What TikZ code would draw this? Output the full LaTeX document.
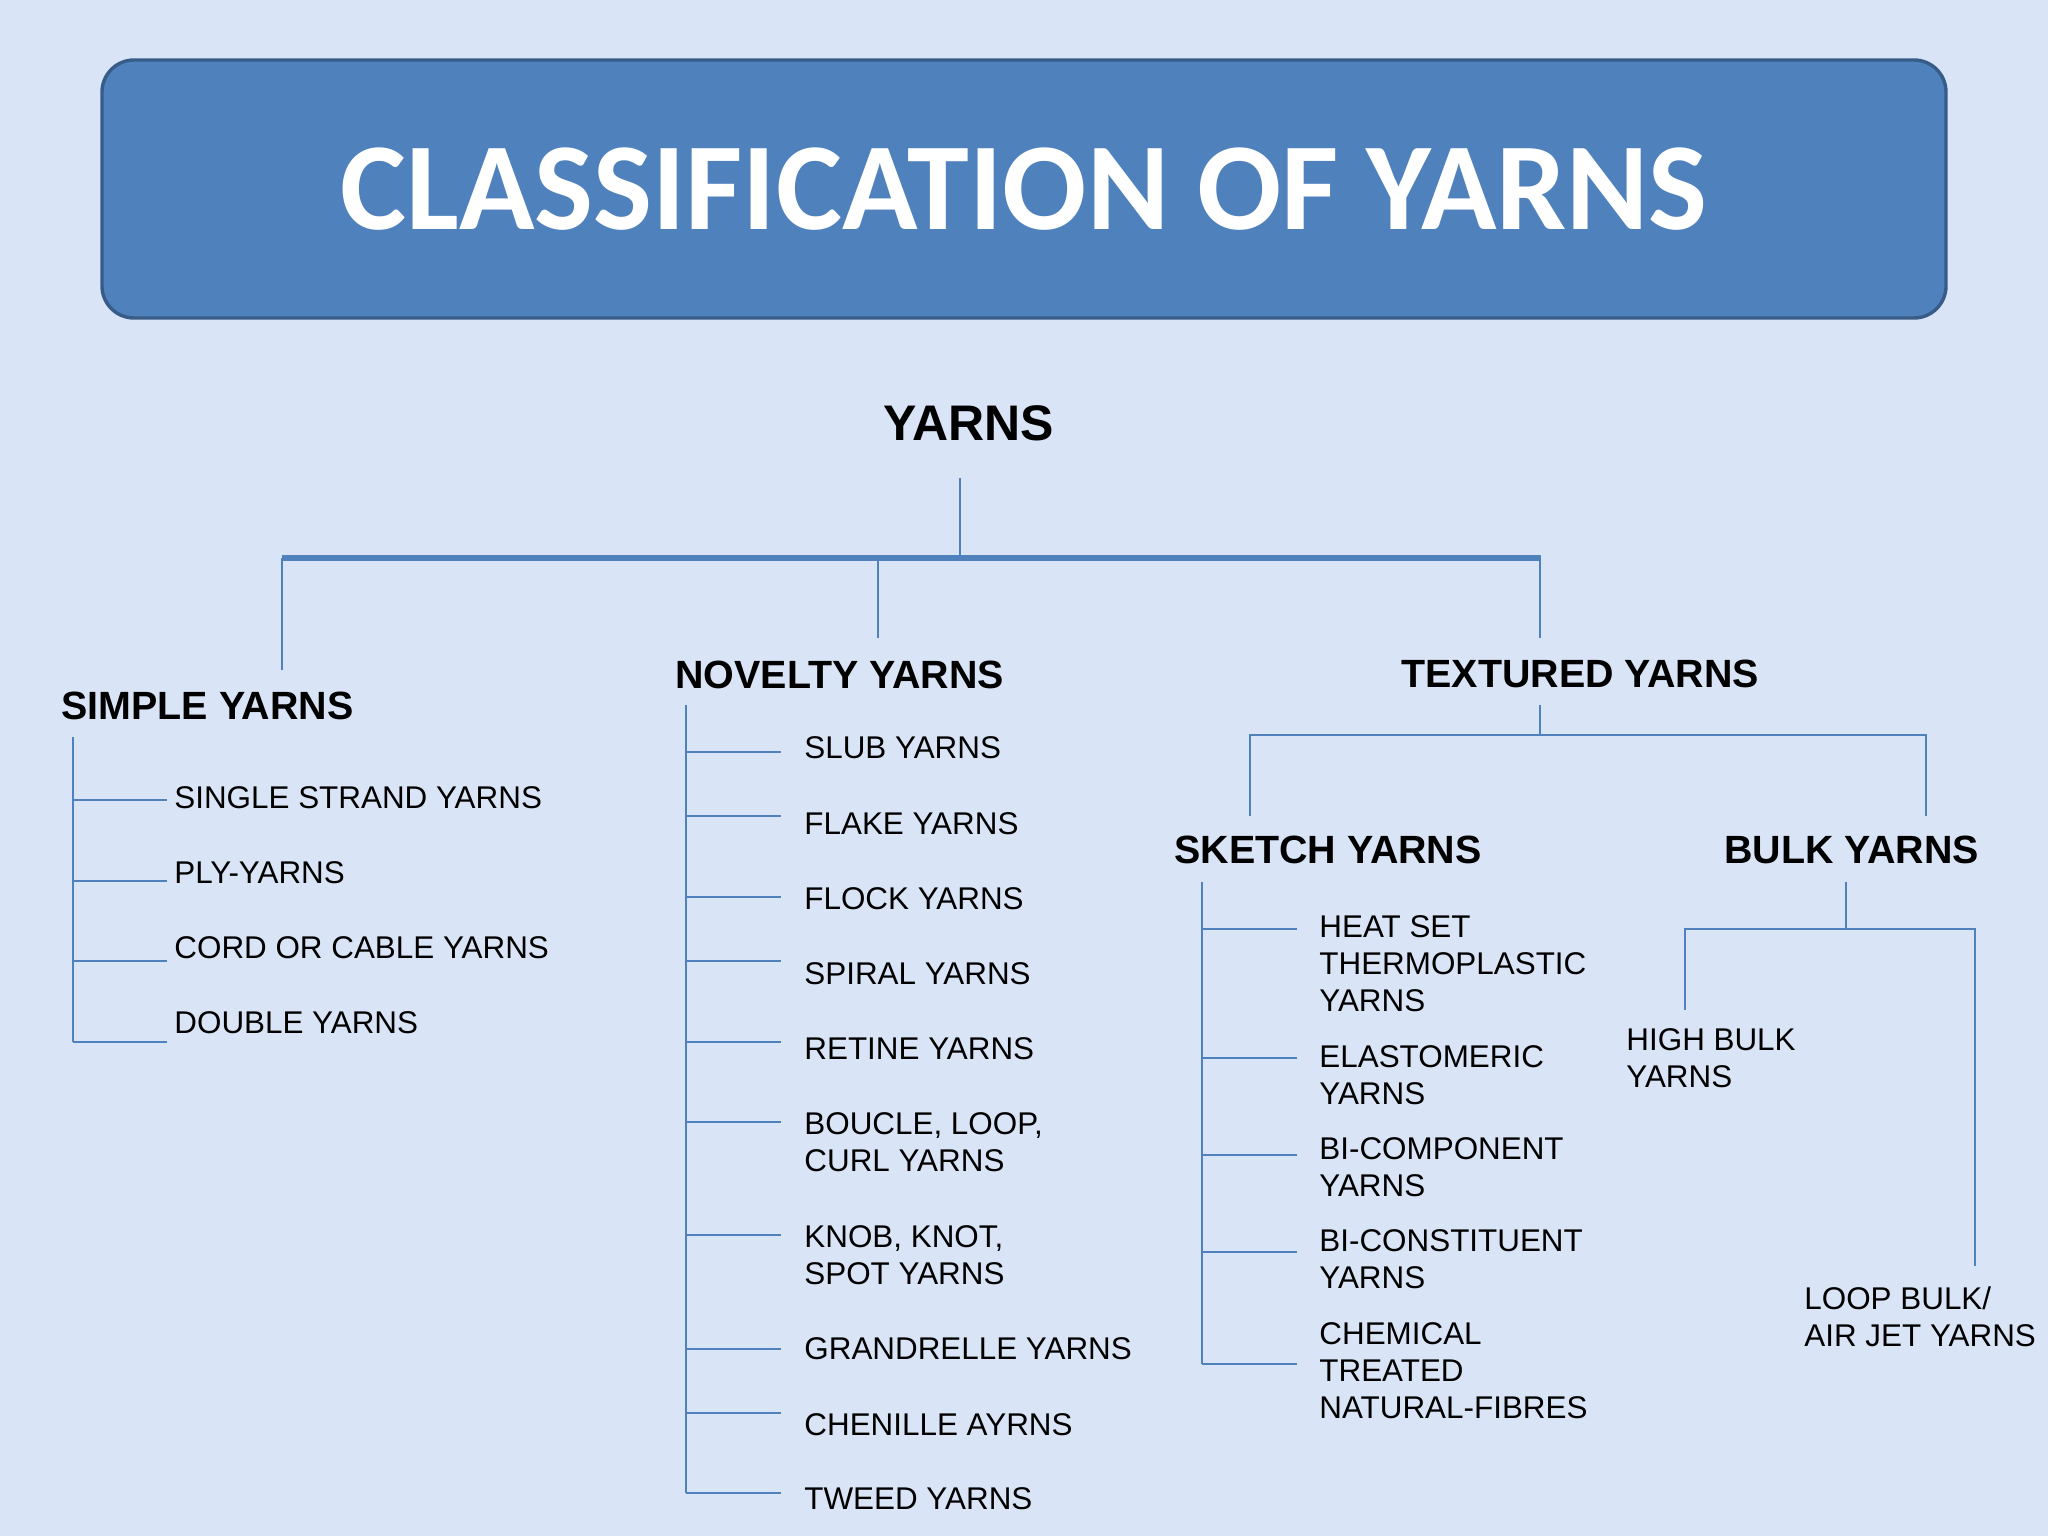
\documentclass[tikz,border=0pt]{standalone}
\usepackage{fontspec}
\setmainfont{Liberation Sans}
\newfontfamily\titlefont{Carlito}
\definecolor{bgblue}{RGB}{217,229,246}
\definecolor{lineblue}{RGB}{79,129,189}
\definecolor{boxfill}{RGB}{79,129,189}
\definecolor{boxdraw}{RGB}{56,92,136}
\begin{document}
\begin{tikzpicture}[x=0.5pt,y=-0.5pt,
  conn/.style={draw=lineblue,line width=1.25pt},
  thickbar/.style={draw=lineblue,line width=3.2pt},
  item/.style={inner sep=0pt,anchor=west,font=\fontsize{15.7}{18.5}\selectfont,align=left},
  mitem/.style={inner sep=0pt,anchor=north west,font=\fontsize{15.7}{18.5}\selectfont,align=left},
  head/.style={inner sep=0pt,anchor=west,font=\bfseries\fontsize{19.7}{23}\selectfont},
]
\useasboundingbox (0,0) rectangle (2048,1536);
\fill[bgblue] (0,0) rectangle (2048,1536);

% title
\node[draw=boxdraw,fill=boxfill,line width=1.7pt,rounded corners=16pt,
      minimum width=922pt,minimum height=129pt,inner sep=0pt,
      text=white,font=\titlefont\bfseries\fontsize{62.3}{70}\selectfont] (title) at (1024,189) {CLASSIFICATION OF YARNS};

% root
\node[inner sep=0pt,font=\bfseries\fontsize{25}{29}\selectfont] (yarns) at (969,423) {YARNS};

% headings
\node[head] (simple) at (61,706) {SIMPLE YARNS};
\node[head] (novelty) at (675,675) {NOVELTY YARNS};
\node[head] (textured) at (1401,674) {TEXTURED YARNS};
\node[head] (sketch) at (1174,850) {SKETCH YARNS};
\node[head] (bulk) at (1724,850) {BULK YARNS};

% top connectors
\coordinate (yt) at (960,478);
\coordinate (yb) at (960,558);
\coordinate (barL) at (282,558);
\coordinate (barR) at (1541,558);
\coordinate (simpleTop) at (282,670);
\coordinate (novBar) at (878,558);
\coordinate (novTop) at (878,638);
\coordinate (texBar) at (1540,558);
\coordinate (texTop) at (1540,638);
\draw[conn] (yt) -- (yb);
\draw[thickbar] (barL) -- (barR);
\draw[conn] (barL) -- (simpleTop);
\draw[conn] (novBar) -- (novTop);
\draw[conn] (texBar) -- (texTop);

% simple yarns
\coordinate (sTop) at (73,737);
\coordinate (sBot) at (73,1042);
\draw[conn] (sTop) -- (sBot);
\foreach \y [count=\i] in {800,881,961,1042}{
  \coordinate (st\i) at (73,\y);
  \draw[conn] (st\i) -- ++(94,0);
}
\node[item] (s1) at (174,798) {SINGLE STRAND YARNS};
\node[item] (s2) at (174,873) {PLY-YARNS};
\node[item] (s3) at (174,948) {CORD OR CABLE YARNS};
\node[item] (s4) at (174,1023) {DOUBLE YARNS};

% novelty yarns
\coordinate (nTop) at (686,705);
\coordinate (nBot) at (686,1493);
\draw[conn] (nTop) -- (nBot);
\foreach \y [count=\i] in {752,816,897,961,1042,1122,1235,1349,1413,1493}{
  \coordinate (nt\i) at (686,\y);
  \draw[conn] (nt\i) -- ++(95,0);
}
\node[item] (n1) at (804,748) {SLUB YARNS};
\node[item] (n2) at (804,824) {FLAKE YARNS};
\node[item] (n3) at (804,899) {FLOCK YARNS};
\node[item] (n4) at (804,974) {SPIRAL YARNS};
\node[item] (n5) at (804,1049) {RETINE YARNS};
\node[mitem] (n6) at (804,1112.5) {BOUCLE, LOOP,\\CURL YARNS};
\node[mitem] (n7) at (804,1225.5) {KNOB, KNOT,\\SPOT YARNS};
\node[item] (n8) at (804,1349) {GRANDRELLE YARNS};
\node[item] (n9) at (804,1425) {CHENILLE AYRNS};
\node[item] (n10) at (804,1499) {TWEED YARNS};

% textured split
\coordinate (tA) at (1540,705);
\coordinate (tB) at (1540,735);
\coordinate (tL) at (1250,735);
\coordinate (tR) at (1926,735);
\coordinate (tLd) at (1250,816);
\coordinate (tRd) at (1926,816);
\draw[conn] (tA) -- (tB);
\draw[conn] (tLd) -- (tL) -- (tR) -- (tRd);

% sketch yarns
\coordinate (kTop) at (1202,882);
\coordinate (kBot) at (1202,1364);
\draw[conn] (kTop) -- (kBot);
\foreach \y [count=\i] in {929,1058,1155,1252,1364}{
  \coordinate (kt\i) at (1202,\y);
  \draw[conn] (kt\i) -- ++(95,0);
}
\node[mitem] (k1) at (1319,915.5) {HEAT SET\\THERMOPLASTIC\\YARNS};
\node[mitem] (k2) at (1319,1045.5) {ELASTOMERIC\\YARNS};
\node[mitem] (k3) at (1319,1137.5) {BI-COMPONENT\\YARNS};
\node[mitem] (k4) at (1319,1229.5) {BI-CONSTITUENT\\YARNS};
\node[mitem] (k5) at (1319,1322.5) {CHEMICAL\\TREATED\\NATURAL-FIBRES};

% bulk yarns
\coordinate (bA) at (1846,882);
\coordinate (bB) at (1846,929);
\coordinate (bL) at (1685,929);
\coordinate (bR) at (1975,929);
\coordinate (bLd) at (1685,1010);
\coordinate (bRd) at (1975,1266);
\draw[conn] (bA) -- (bB);
\draw[conn] (bLd) -- (bL) -- (bR) -- (bRd);
\node[mitem] (b1) at (1626,1028.5) {HIGH BULK\\YARNS};
\node[mitem] (b2) at (1804,1286.5) {LOOP BULK/\\AIR JET YARNS};
\end{tikzpicture}
\end{document}
